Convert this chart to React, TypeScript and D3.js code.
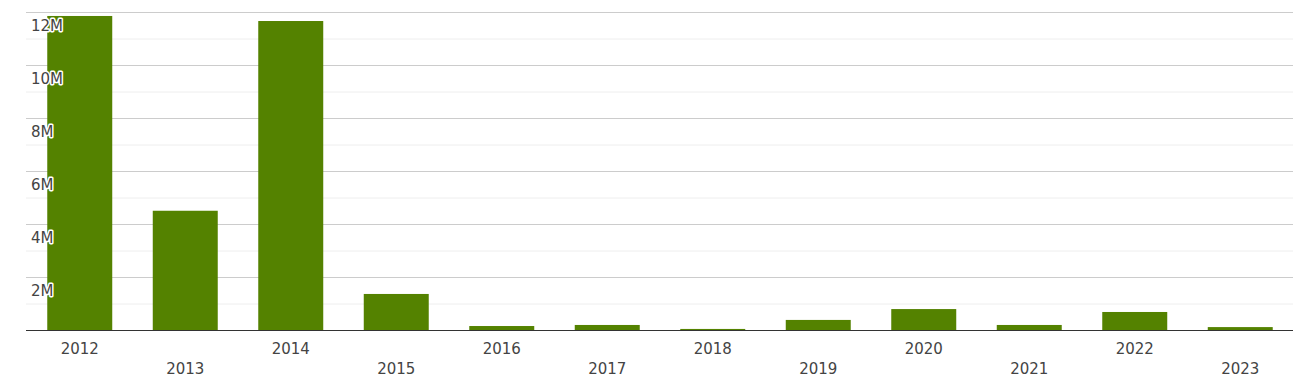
import React from "react";
import * as d3 from "d3";

const years = ["2012","2013","2014","2015","2016","2017","2018","2019","2020","2021","2022","2023"];
const values = [11.85e6, 4.5e6, 11.66e6, 1.36e6, 0.15e6, 0.19e6, 0.04e6, 0.38e6, 0.79e6, 0.19e6, 0.68e6, 0.11e6];
const majorTicks = [2e6, 4e6, 6e6, 8e6, 10e6, 12e6];
const minorTicks = [1e6, 3e6, 5e6, 7e6, 9e6, 11e6];

const W = 1293, H = 384;
const left = 26, right = 1293, top = 12, bottom = 330;

export default function App() {
  const x = d3.scaleBand<string>().domain(years).range([left + 1, right]).paddingInner(0.384).paddingOuter(0.192);
  const y = d3.scaleLinear().domain([0, 12e6]).range([bottom, top]);
  const fmt = (v: number) => `${v / 1e6}M`;
  const font = "'DejaVu Sans', sans-serif";
  return (
    <svg width={W} height={H} style={{ position: "absolute", left: 0, top: 0, display: "block" }} fontFamily={font}>
      {minorTicks.map((t) => (
        <line key={"m" + t} x1={left} x2={right} y1={y(t) + 0.5} y2={y(t) + 0.5} stroke="#eeeeee" />
      ))}
      {majorTicks.map((t) => (
        <line key={"g" + t} x1={left} x2={right} y1={y(t) + 0.5} y2={y(t) + 0.5} stroke="#cccccc" />
      ))}
      {values.map((v, i) => (
        <rect key={years[i]} x={x(years[i])} y={y(v)} width={x.bandwidth()} height={bottom - y(v)} fill="#548200" />
      ))}
      <line x1={left} x2={right} y1={bottom + 0.5} y2={bottom + 0.5} stroke="#333333" />
      {majorTicks.map((t) => (
        <text key={"l" + t} x={31} y={y(t) + 18.5} fontSize={15} fill="#444444" stroke="#ffffff" strokeWidth={3} paintOrder="stroke" strokeLinejoin="round">
          {fmt(t)}
        </text>
      ))}
      {years.map((yr, i) => (
        <text key={"x" + yr} x={(x(yr) as number) + x.bandwidth() / 2} y={i % 2 === 0 ? 353.5 : 373.5} fontSize={15} fill="#444444" textAnchor="middle">
          {yr}
        </text>
      ))}
    </svg>
  );
}
